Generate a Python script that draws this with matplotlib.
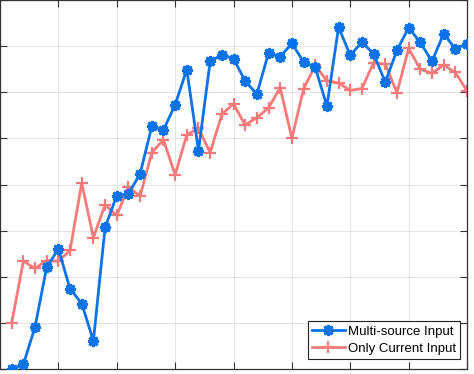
import matplotlib
matplotlib.use("Agg")
import matplotlib.pyplot as plt
import numpy as np

# epochs 1..40
epochs = list(range(1, 41))

multi_source = [
    0.00, 0.10, 0.91, 2.21, 2.60, 1.74, 1.42, 0.61, 3.07, 3.76,
    3.80, 4.23, 5.26, 5.18, 5.73, 6.49, 4.73, 6.67, 6.81, 6.73,
    6.24, 5.96, 6.85, 6.77, 7.06, 6.66, 6.54, 5.70, 7.41, 6.80,
    7.09, 6.83, 6.22, 6.91, 7.40, 7.08, 6.67, 7.27, 6.94, 7.05,
]

only_current = [
    0.99, 2.34, 2.18, 2.35, 2.34, 2.57, 4.03, 2.85, 3.56, 3.33,
    3.94, 3.75, 4.69, 4.97, 4.21, 5.08, 5.22, 4.69, 5.52, 5.75,
    5.29, 5.45, 5.66, 6.10, 5.00, 6.07, 6.58, 6.25, 6.20, 6.04,
    6.08, 6.64, 6.61, 5.99, 6.95, 6.50, 6.41, 6.59, 6.43, 6.03,
]

x_ticks = np.arange(0, 41, 5)
y_ticks = np.arange(0, 9, 1)

blue = "#0a73ea"
red = "#f77a7a"

fig = plt.figure(figsize=(4.74, 3.74), dpi=100)
ax = fig.add_axes([0.0, 5 / 374, 467 / 474, 369 / 374])

ax.plot(epochs, multi_source, color=blue, lw=2.0, marker=(8, 2, 0),
        ms=8, mew=2.0, label="Multi-source Input", zorder=3)
ax.plot(epochs, only_current, color=red, lw=2.0, marker="+",
        ms=9, mew=1.6, label="Only Current Input", zorder=2)

ax.set_xlim(0, 40)
ax.set_ylim(0, 8)
ax.set_xticks(x_ticks)
ax.set_yticks(y_ticks)
ax.set_xticklabels([])
ax.set_yticklabels([])
ax.tick_params(direction="in", length=5, width=0.8, color="#333333",
               top=True, right=True)
ax.grid(True, color="#e3e3e3", lw=0.7)
ax.set_axisbelow(True)
for s in ax.spines.values():
    s.set_color("#333333")
    s.set_linewidth(0.9)

# legend box sits a little in from the lower right corner
leg = ax.legend(loc="lower right", bbox_to_anchor=(0.985, 0.027),
                frameon=True, fancybox=False,
                handlelength=2.5, borderpad=0.3, labelspacing=0.4,
                handletextpad=0.25, borderaxespad=0.0,
                prop={"family": "Liberation Sans", "size": 9.5})
leg.get_frame().set_edgecolor("#222222")
leg.get_frame().set_linewidth(0.8)
leg.get_frame().set_alpha(1)

fig.savefig("out.png", dpi=100)
